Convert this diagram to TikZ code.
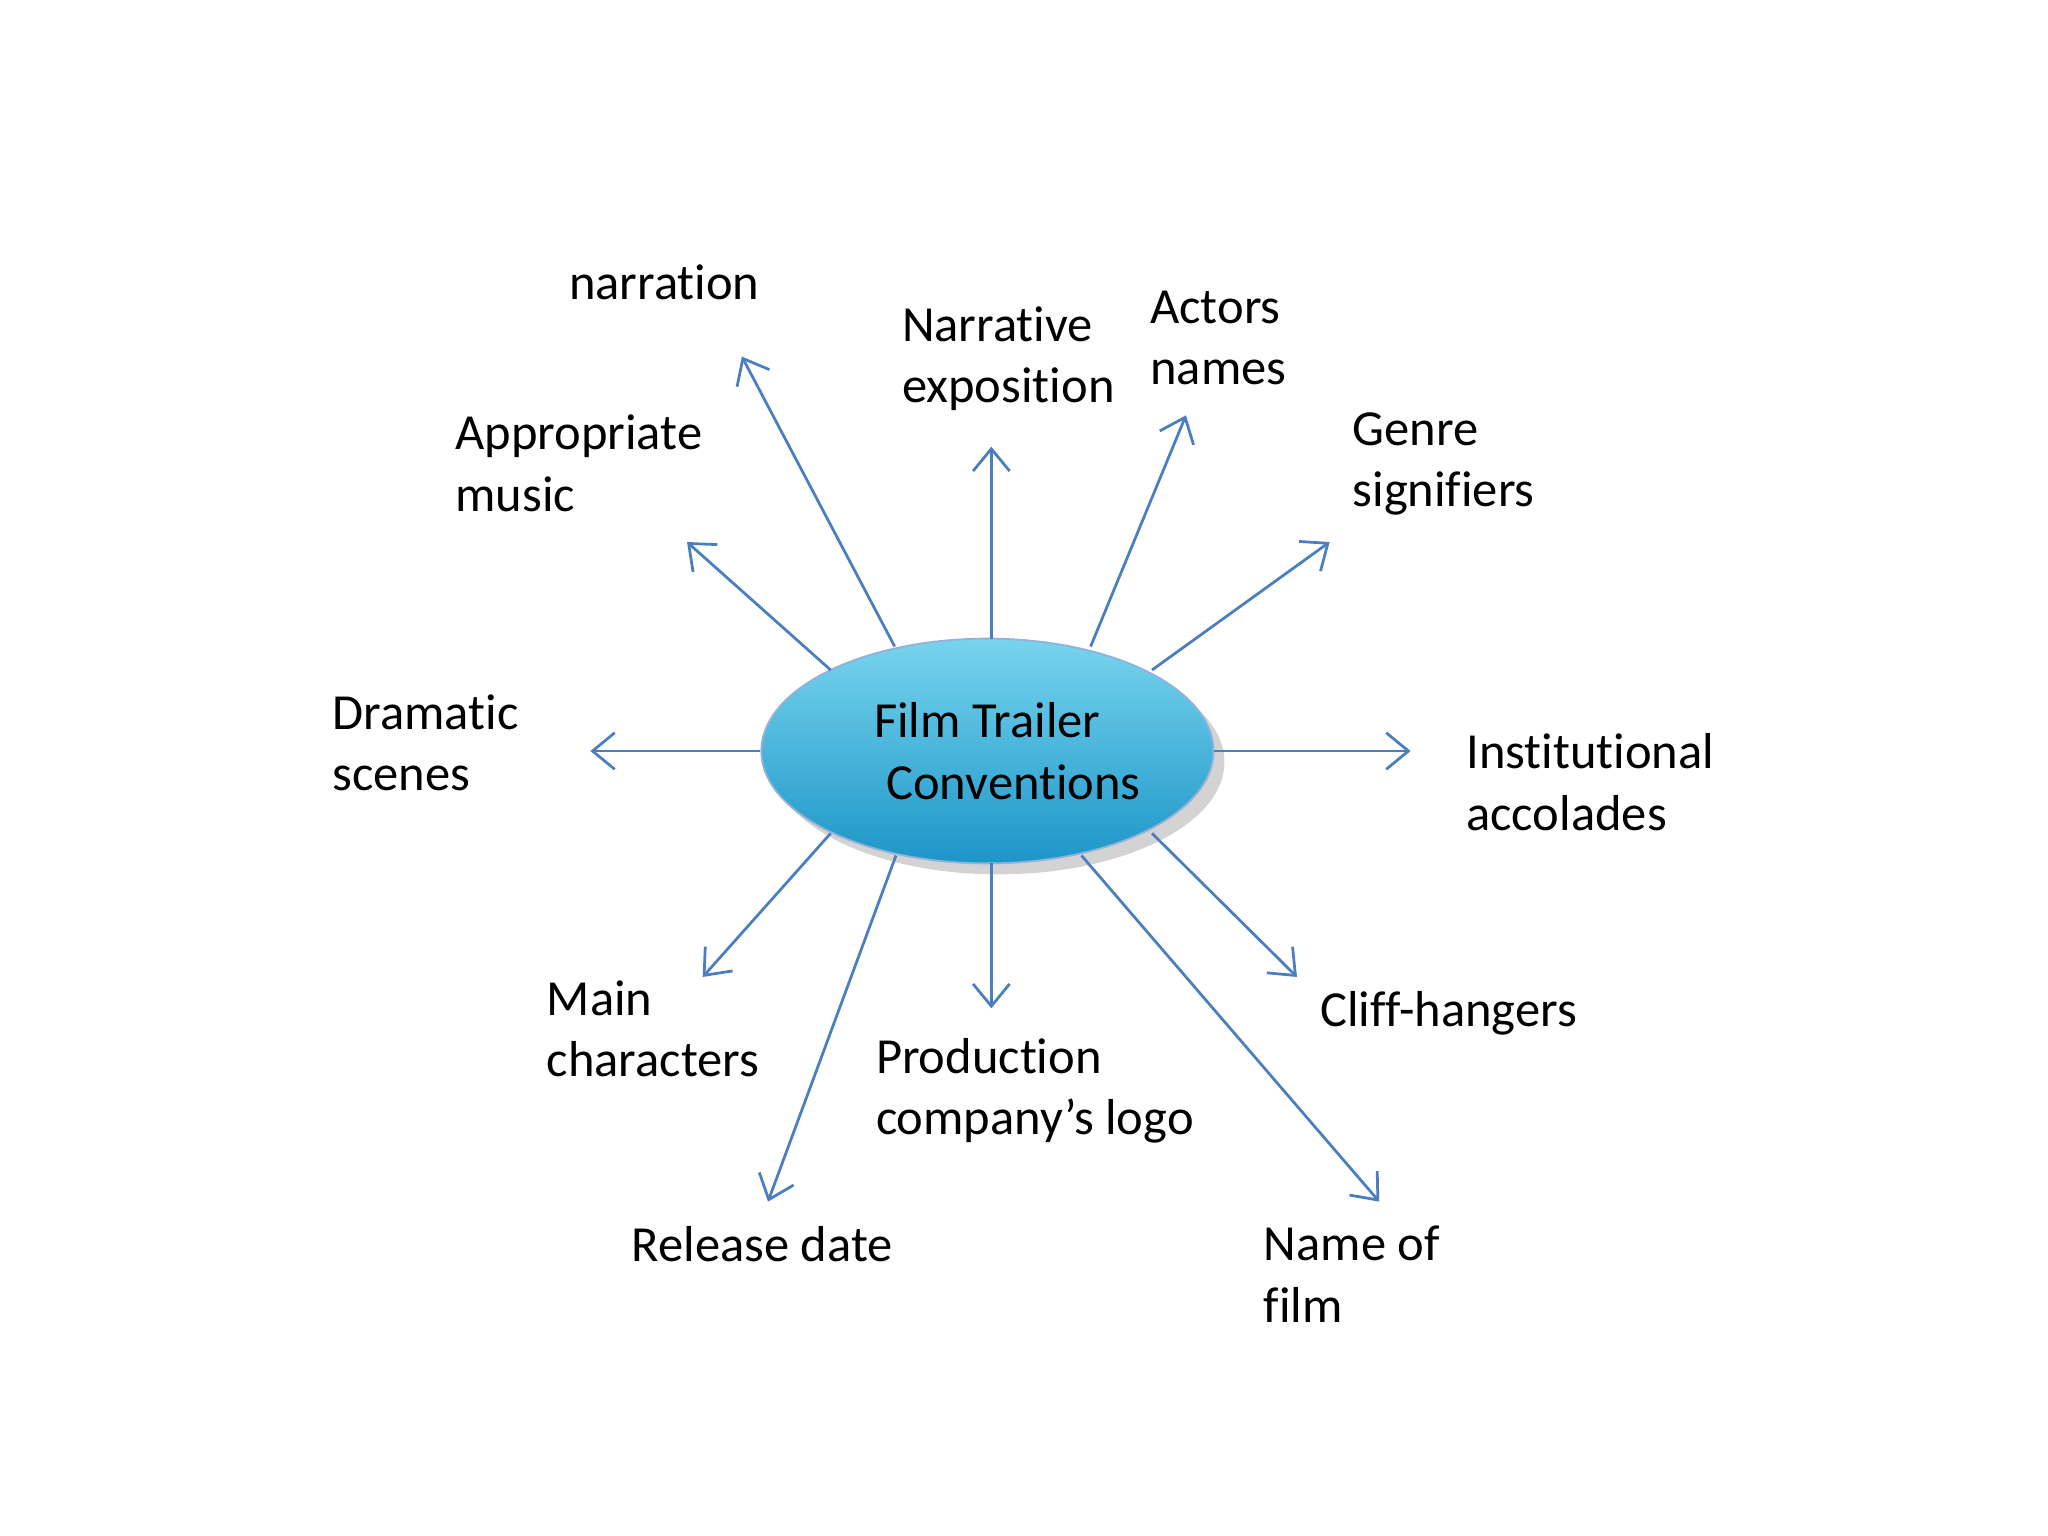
\documentclass[tikz,border=0pt]{standalone}
\usepackage{fontspec}
\setmainfont{Carlito}[Ligatures=NoCommon]
\usetikzlibrary{shapes.geometric, arrows.meta, shadows}
\definecolor{linkblue}{RGB}{74,126,192}
\tikzset{arrow/.style={draw=linkblue, semithick, -{Straight Barb[length=1.7mm,width=2.8mm]}}}
\tikzset{label/.style={anchor=north west, inner sep=0pt, align=left, font=\fontsize{11}{13.4}\selectfont}}
\tikzset{every node/.style={align=center}}

\begin{document}
\begin{tikzpicture}[x=0.01cm, y=-0.01cm]
    \useasboundingbox (0,0) rectangle (1568,1176);
    \node (ft) [ellipse, inner sep=0pt, minimum width=3.46cm, minimum height=1.72cm, draw=linkblue!60,
        top color={rgb,255:red,120;green,212;blue,238}, bottom color={rgb,255:red,28;green,150;blue,200},
        drop shadow={opacity=0.35}, font=\fontsize{11}{13.4}\selectfont] at (756,575)
        {Film Trailer\\\hspace{0.4cm}Conventions};

    % labels
    \node (narr) [label] at (435,202) {narration};
    \node (music) [label] at (348,317) {Appropriate\\music};
    \node (expo) [label] at (690,234) {Narrative\\exposition};
    \node (actors) [label] at (880,222) {Actors\\names};
    \node (genre) [label] at (1035,315) {Genre\\signifiers};
    \node (drama) [label] at (254,531) {Dramatic\\scenes};
    \node (inst) [label] at (1122,561) {Institutional\\accolades};
    \node (mainc) [label] at (418,750) {Main\\characters};
    \node (prod) [label] at (670,794) {Production\\company’s logo};
    \node (cliff) [label] at (1010,758) {Cliff-hangers};
    \node (rel) [label] at (483,938) {Release date};
    \node (name) [label] at (967,938) {Name of\\film};

    % arrow tips
    \coordinate (tnarr) at (568,273);
    \coordinate (tmusic) at (526,415);
    \coordinate (texpo) at (759,342);
    \coordinate (tactors) at (908,318);
    \coordinate (tgenre) at (1018,415);
    \coordinate (tdrama) at (452,575);
    \coordinate (tinst) at (1080,575);
    \coordinate (tmainc) at (538,748);
    \coordinate (trel) at (588,920);
    \coordinate (tprod) at (759,772);
    \coordinate (tcliff) at (993,748);
    \coordinate (tname) at (1056,920);

    \draw [arrow] (685,495) -- (tnarr);
    \draw [arrow] (636,513) -- (tmusic);
    \draw [arrow] (759,489) -- (texpo);
    \draw [arrow] (835,495) -- (tactors);
    \draw [arrow] (882,513) -- (tgenre);
    \draw [arrow] (ft.west) -- (tdrama);
    \draw [arrow] (ft.east) -- (tinst);
    \draw [arrow] (636,638) -- (tmainc);
    \draw [arrow] (686,655) -- (trel);
    \draw [arrow] (759,661) -- (tprod);
    \draw [arrow] (882,638) -- (tcliff);
    \draw [arrow] (828,655) -- (tname);
\end{tikzpicture}
\end{document}
